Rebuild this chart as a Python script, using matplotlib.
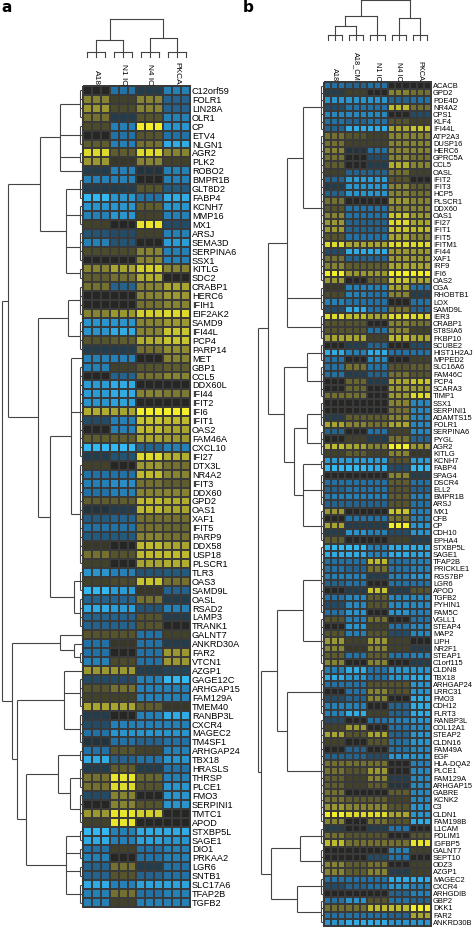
import numpy as np
import matplotlib
matplotlib.use("Agg")
import matplotlib.pyplot as plt
from matplotlib.colors import LinearSegmentedColormap

# ---------------- data ----------------
groups_a = ["A18", "N1 IC", "N4 IC", "PKCA"]
genes_a = ["C12orf59","FOLR1","LIN28A","OLR1","CP","ETV4","NLGN1","AGR2","PLK2","ROBO2","BMPR1B","GLT8D2",
 "FABP4","KCNH7","MMP16","MX1","ARSJ","SEMA3D","SERPINA6","SSX1","KITLG","SDC2","CRABP1","HERC6","IFIH1",
 "EIF2AK2","SAMD9","IFI44L","PCP4","PARP14","MET","GBP1","CCL5","DDX60L","IFI44","IFIT2","IFI6","IFIT1","OAS2",
 "FAM46A","CXCL10","IFI27","DTX3L","NR4A2","IFIT3","DDX60","GPD2","OAS1","XAF1","IFIT5","PARP9","DDX58","USP18",
 "PLSCR1","TLR3","OAS3","SAMD9L","OASL","RSAD2","LAMP3","TRANK1","GALNT7","ANKRD30A","FAR2","VTCN1","AZGP1",
 "GAGE12C","ARHGAP15","FAM129A","TMEM40","RANBP3L","CXCR4","MAGEC2","TM4SF1","ARHGAP24","TBX18","HRASLS","THRSP",
 "PLCE1","FMO3","SERPINI1","TMTC1","APOD","STXBP5L","SAGE1","DIO1","PRKAA2","LGR6","SNTB1","SLC17A6","TFAP2B","TGFB2"]
vals_a = [
 [0,-1,-0.3,-1.2],[1,0.3,1,-0.8],[1.2,0.4,1,-0.8],[0.8,-0.3,0.5,-1.2],[0.4,-1.2,2,-1.5],[0,-1,0.5,-1],
 [0.6,-1.2,0.8,-1.8],[1.8,0.6,1.8,1],[1.2,0.2,1,0.3],[-0.3,-1.2,-0.2,-1.2],[-1.2,-1.2,0,-1.2],[-0.3,-0.3,0.5,-0.7],
 [-2,-1.5,-1,-1.8],[-1.5,-1.5,0.6,-1.5],[-1.2,-1.5,0.3,-1.2],[0.3,0,1.9,-0.5],[-0.6,-0.5,0.3,-1.2],[-1.2,-0.6,0,-1.6],
 [0.4,0.4,1,-1.2],[0,0,1,-1.2],[1,1.3,1.7,1],[0.6,0.8,1.4,0],[0.8,-0.8,1,1.3],[0,0,1,1.2],[0,0,0.8,1],
 [1,1.2,1.7,1.8],[-1.5,-1.5,1,1.2],[-1.5,-1.8,1,1.6],[0.5,0.6,1.4,1.6],[-0.3,-0.3,0.8,1.1],[-1.2,-1.2,0,1],
 [-1.2,0.3,0.5,0.6],[0,-0.8,0.8,1],[-1.6,-1.8,0,0],[-1.6,-1.8,1,0.9],[-1.5,-1.7,0,0],[1.4,1.3,2,2],
 [-0.5,-1.2,1.6,1.5],[0,-1.2,1.5,1.3],[0.6,0.6,1.3,1.2],[-2,-2,-0.8,-1.2],[-0.3,-0.6,1.8,1.4],[0.3,0,1.2,0.8],
 [-1,-1,1.5,1],[-1.2,-1.4,0.8,0.6],[-1,-1.2,1,1],[0.6,0.6,1.5,1.4],[-0.2,-0.3,1.5,1.3],[-0.7,-0.8,0.8,0.8],
 [-1,-1,0.8,0.7],[-0.7,-0.7,1,0.8],[0.2,0,1.5,1.3],[0.8,0.5,1.5,1.5],[0.3,0,1.3,1.4],[-1.5,-1.2,-0.6,-0.7],
 [0.3,0.4,1.6,0.8],[-2,-1.6,0.2,-0.8],[-0.8,-0.8,0.8,-0.3],[-1.8,-1.6,-0.6,-1.2],[-0.8,-0.8,0.5,-0.3],
 [-0.8,-0.8,0.5,0],[0.5,0.5,-1,0.3],[-1,0.2,-1,-0.3],[-1,0,-1,1.2],[-1.2,0.4,-1,1.2],[1.2,1.2,-0.3,-0.4],
 [-0.5,-0.5,-1.2,-2],[0.5,0.8,-1.2,-1.2],[0.3,0.3,-1.2,-1.2],[1.3,1.3,0.6,0.2],[-0.3,0,-1.2,-1.8],
 [-0.5,-1.2,-1.2,-1.2],[-1,-1.5,-1.5,-1.5],[-0.2,-1,-0.8,-1],[-1,0.5,0.3,-1.2],[-1.8,-0.8,-1,-1.5],
 [-0.3,0.6,-0.3,-1],[0.8,1.9,0.7,-1.2],[0.8,1.8,0.5,-1.5],[-0.5,1,0,-1.5],[0,1,0.5,-1.5],[1.2,1.9,1.7,0],
 [0.3,1.9,0,0],[-2,-1.2,-1.8,-1.8],[-1.8,-1.2,-1.7,-1.5],[-1,0.3,-1,-1.2],[-1.2,0,-1,-1.2],[-0.8,0.8,-0.3,-1],
 [-0.8,0.5,-0.8,-1],[-1.8,-1.2,-1.7,-1.7],[-1.2,0.8,-1,-1.2],[-1.2,0.3,-1.2,-1.2]]

groups_b = ["A18", "A18_CM", "N1 IC", "N4 IC", "PKCA"]
genes_b = ["ACACB","GPD2","PDE4D","NR4A2","CPS1","KLF4","IFI44L","ATP2A3","DUSP16","HERC6","GPRC5A","CCL5","OASL",
 "IFIT2","IFIT3","HCP5","PLSCR1","DDX60","OAS1","IFI27","IFIT1","IFIT5","IFITM1","IFI44","XAF1","IRF9","IFI6","OAS2",
 "CGA","RHOBTB1","LOX","SAMD9L","IER3","CRABP1","ST8SIA6","FKBP10","SCUBE2","HIST1H2AJ","MPPED2","SLC16A6","FAM46C",
 "PCP4","SCARA3","TIMP1","SSX1","SERPINI1","ADAMTS15","FOLR1","SERPINA6","PYGL","AGR2","KITLG","KCNH7","FABP4",
 "SPAG4","DSCR4","ELL2","BMPR1B","ARSJ","MX1","CFB","CP","CDH10","EPHA4","STXBP5L","SAGE1","TFAP2B","PRICKLE1",
 "RGS7BP","LGR6","APOD","TGFB2","PYHIN1","FAM5C","VGLL1","STEAP4","MAP2","LIPH","NR2F1","STEAP1","C1orf115","CLDN8",
 "TBX18","ARHGAP24","LRRC31","FMO3","CDH12","FLRT3","RANBP3L","COL12A1","STEAP2","CLDN16","FAM49A","EGF","HLA-DQA2",
 "PLCE1","FAM129A","ARHGAP15","GABRE","KCNK2","C3","CLDN1","FAM198B","L1CAM","PDLIM1","IGFBP5","GALNT7","SEPT10",
 "ODZ3","AZGP1","MAGEC2","CXCR4","ARHGDIB","GBP2","DKK1","FAR2","ANKRD30B"]
vals_b = [
 [-1,-0.8,-1,0,0],[-0.3,0.3,0,1,0.8],[-1.5,-1.5,-1.5,-0.8,-1],[-0.5,-1,-1,1.5,0.8],[-1.3,-1.3,-1.3,0,-0.5],
 [-1,-0.8,-1,0.5,0.3],[-0.8,-1.8,-1.8,1.3,1.6],[0.8,0.5,0.3,1,1],[0.8,0.3,0.3,1,1],[1,-0.2,-1,1,1],
 [0.8,0,-0.5,1,0.8],[0.6,0,-0.3,1.4,1],[0.3,-0.8,-0.8,0.8,0.3],[-0.8,-1.6,-1.6,0.5,0],[-0.3,-1.5,-1.5,1,0.6],
 [-0.8,-1.5,-1.5,1,0.8],[0.8,0,0,1.2,1],[0.5,-1,-1,1,1],[1,-1,-1,1.6,1.2],[1.2,-0.8,-0.8,1.8,1.3],
 [1.2,-0.8,-0.8,1.6,1.5],[0.5,-1,-1,1.3,1],[1.8,1.3,1.3,1.8,1.8],[-0.5,-1.8,-1.8,1.2,1.2],[0.8,-0.8,-0.8,1.2,1.2],
 [1,0.6,0.6,1.3,1.3],[2,1.2,1.2,2,2],[1.2,0,0.6,1.6,1.3],[0.2,-1.2,-1.2,1.3,-1],[0.4,-1.2,-1,1,-0.3],
 [-1.2,-1,-1,0,-1],[-0.5,-1.8,-1,0.8,-0.8],[1.8,1.5,1.3,1.8,1.8],[0.5,0.5,0,1,0.8],[0.5,0.5,-1,1,0.3],
 [1.3,1.3,0.3,1.5,1.3],[0,-0.3,-0.8,0,-0.5],[-1.8,-1.2,-1.8,-1,-1],[-1,0,-1.3,0,0.3],[-1,0.8,-1,0.5,0.6],
 [-1,-0.3,-0.8,0.8,0.5],[0,0.7,-0.3,1.3,1.6],[0,0.7,0,1.2,1.2],[0.8,0.8,0,1.2,1.8],[0,0,0,1,-1.3],
 [0,0,0,0.8,-1.3],[-0.3,0.6,0.6,1,-1.3],[1.3,1,0.8,1.3,-1.3],[-0.8,0,-1,0.3,-1.3],[0,0.3,-0.3,0.8,-0.8],
 [1.5,1.3,1,2,1.2],[0.3,0.6,0.3,1,0.2],[-1.6,-1.6,-1.6,0.5,-1.6],[-2,-2,-1.8,-0.5,-2],[0,0,0,1,-0.3],
 [-1,-1,-1,0.6,-1],[-0.8,-1,-1,0.5,-0.8],[-1.2,-1.2,-1.2,0.6,-1.2],[-0.8,-0.8,-0.8,0.5,-1],[1.2,0,0,1.6,-1.2],
 [0,-1,-1,0.8,-1.2],[1.3,-0.3,-0.3,2,-1.5],[-0.3,-1.5,-1.2,-0.5,-1.5],[0.6,0,0,0.3,-0.3],[-2,-2,-1.2,-1.8,-1.8],
 [-1.8,-1.8,-1.2,-1.8,-1.7],[-1,-1,1.5,-1,-1.2],[-1,-0.8,0.8,-1,-1.2],[-1.2,-1.2,-0.3,-1.2,-1.5],[-0.8,-1,0,-1,-1],
 [0,-0.3,1.6,-0.3,0.5],[-1,-1.3,0.6,-1.3,-1.3],[-0.5,-1.3,0.5,-1.3,-1.3],[-1,-1.5,0,-1.5,-1.2],[0.5,-1.2,0.8,0,-1],
 [0,-1.5,0.3,-1,-1.3],[0.5,-1.2,0.5,-0.5,-1.3],[1.2,0.3,1.2,0.3,0],[1,0.2,1,0.3,-0.3],[0.6,-1,0.6,-1,-1.2],
 [1,0,1,0,-0.3],[-1.2,-1.8,-1,-1.5,-1.5],[-1.8,-1.5,-1,-1.5,-1.8],[-1,-1,0.5,0.5,-1.5],[0,-1,1,0.5,-1.5],
 [-0.5,-0.8,1,0,-1.8],[-1.2,-1.2,0,-0.8,-1.8],[-1.2,-1.8,0.3,-0.8,-1.8],[-0.5,0,-1,-1.2,-1.5],[0.3,1.2,0,-1,-1.3],
 [1.3,0.5,1.3,-0.8,-1.5],[0.3,0,0.5,-1,-1.5],[0,-0.8,0,-1,-1.3],[-0.8,-0.8,-0.5,-1.5,-1.5],[0.8,0.8,0.8,0,-1.2],
 [0.8,0.5,1.2,0,-1.3],[0.6,0.3,1,-0.3,-1.3],[0.6,0.3,0.6,-0.2,-1.3],[0.8,0,0,0.6,-1.3],[0.8,0.6,0.6,0.3,-1.3],
 [1.2,1,1,0.5,-1.5],[2,1.8,1.8,1.3,-1.5],[1,0,0.8,0.5,-1.8],[-0.3,0,-0.3,-1,0],[0.8,0.5,0.5,0,0.5],
 [1.5,0.8,0.8,0.8,1.9],[0,0,0,-1.2,0.3],[0,0,-0.5,-1,0],[1,0.6,0.8,0,0.3],[1,0.6,1,-0.3,0.3],
 [-1,-1,-1,-1.8,-1.8],[-0.5,-0.8,-1,-1.5,-1.2],[0,0,0,-0.8,-1.2],[-1,-1.5,0.5,-1,-0.8],[0.8,0.8,1.5,1.5,2],
 [-1,-1,-1,-0.8,1.3],[-1.5,-1.8,-1.8,-1.5,-1.5]]

# dendrogram topology (nested: [height, children...]; int = tight cluster of n leaves)
A = [0.52, [0.27, 4, 3, 2, 1], [0.2, 3, 3, 4, 2]]
B = [0.55, [0.18, 4, 4], [0.4, [0.14, 1, 11, 12], [0.1, 3, 4]]]
C = [0.87, [0.27, 1, [0.1, 1, 2]], [0.81, [0.22, 1, 4, 4], [0.7, [0.3, 2, [0.15, 3, 4]], [0.2, 2, 2, 2, 3]]]]
tree_rows_a = [1.0, [0.92, A, B], C]
upper_b = [0.85, [0.55, [0.3, 7, 21], 4, 4],
           [0.6, [0.25, 3, 5], [0.45, [0.25, 4, 4], [0.3, 2, 5, 5]]]]
lower_b = [0.95, [0.7, [0.3, 10, 7], [0.55, 7, 15]],
           [0.8, [0.35, 3, 4], [0.4, 3, 4]]]
tree_rows_b = [1.0, upper_b, lower_b]
tree_cols_a = [1.0, [0.45, 3, 3], [0.5, 3, 3]]
tree_cols_b = [1.0, [0.6, [0.35, 3, 3], 3], [0.55, 3, 3]]

# ---------------- drawing ----------------
W, H = 474, 929
fig = plt.figure(figsize=(W / 100, H / 100), dpi=100)
ax = fig.add_axes([0, 0, 1, 1])
ax.set_xlim(0, W)
ax.set_ylim(H, 0)
ax.axis("off")

cmap = LinearSegmentedColormap.from_list("by", [(0, "#33b8f2"), (0.25, "#2272a6"), (0.5, "#252525"),
                                                (0.75, "#858233"), (1, "#f2ef2a")])
LC = "#444444"

def draw_tree(node, start, comb_h, seg):
    """returns (center, height, nleaves); seg(p0, h0, p1, h1) draws a line in (pos, height) space."""
    if isinstance(node, int):
        pos = [start + i + 0.5 for i in range(node)]
        if node == 1:
            return pos[0], 0.0, 1
        for p in pos:
            seg(p, 0, p, comb_h)
        seg(pos[0], comb_h, pos[-1], comb_h)
        return (pos[0] + pos[-1]) / 2, comb_h, node
    h = node[0]
    cur = start
    cents = []
    for ch in node[1:]:
        c, ch_h, n = draw_tree(ch, cur, comb_h, seg)
        seg(c, ch_h, c, h)
        cents.append(c)
        cur += n
    seg(cents[0], h, cents[-1], h)
    return (cents[0] + cents[-1]) / 2, h, cur - start

def panel(genes, groups, vals, x0, x1, y0, y1, row_tree, col_tree, dend_x0, col_dy, fs, colfs, label):
    v = np.repeat(np.array(vals, float), 3, axis=1)
    nr, nc = v.shape
    ax.pcolormesh(np.linspace(x0, x1, nc + 1), np.linspace(y0, y1, nr + 1), v, cmap=cmap,
                  vmin=-2, vmax=2, edgecolors="#3a3a3a", linewidth=0.3, zorder=2)
    rh = (y1 - y0) / nr
    cw = (x1 - x0) / nc
    for i, g in enumerate(genes):
        ax.text(x1 + 2, y0 + (i + 0.5) * rh, g, fontsize=fs, va="center", ha="left", family="Liberation Sans")
    for j, g in enumerate(groups):
        ax.text(x0 + (3 * j + 1.5) * cw, y0 - 2, g, fontsize=colfs, rotation=270, ha="center",
                va="bottom", family="Liberation Sans")
    span = x0 - 1 - dend_x0
    def rseg(p0, h0, p1, h1):
        ax.plot([x0 - 1 - h0 * span, x0 - 1 - h1 * span], [y0 + p0 * rh, y0 + p1 * rh], color=LC, lw=0.8,
                solid_capstyle="butt")
    draw_tree(row_tree, 0, 0.03, rseg)
    cb, ct = col_dy
    def cseg(p0, h0, p1, h1):
        ax.plot([x0 + p0 * cw, x0 + p1 * cw], [cb - h0 * (cb - ct), cb - h1 * (cb - ct)], color=LC, lw=0.8)
    draw_tree(col_tree, 0, 0.12, cseg)
    ax.text(label[1], label[2], label[0], fontsize=11, fontweight="bold", va="top", ha="left",
            family="DejaVu Sans")

panel(genes_a, groups_a, vals_a, 83, 190, 87, 908, tree_rows_a, tree_cols_a, 2, (58, 20), 6.6, 6.0, ("a", 1, 0))
panel(genes_b, groups_b, vals_b, 324, 431, 83, 927, tree_rows_b, tree_cols_b, 258, (41, 1), 5.4, 5.3, ("b", 243, 0))

fig.savefig("out.png", dpi=100)
